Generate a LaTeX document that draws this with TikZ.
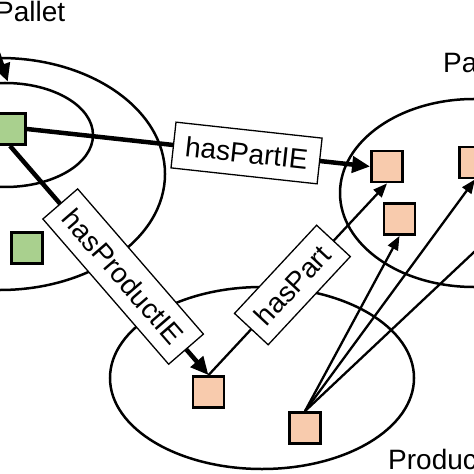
\documentclass[tikz,border=0pt]{standalone}
\usepackage{fontspec}
\setmainfont{Liberation Sans}
\usepackage{tikz}
\usetikzlibrary{arrows.meta, shapes.geometric}
\definecolor{palletgreen}{RGB}{169,208,142}
\definecolor{partorange}{RGB}{248,203,173}

\begin{document}
\begin{tikzpicture}[x=1bp,y=-1bp,
    every node/.style={font=\fontsize{28bp}{32bp}\selectfont},
    set node/.style={ellipse,draw,line width=2.5bp,inner sep=0bp},
    pallet node/.style={rectangle,draw,line width=2.8bp,fill=palletgreen,minimum size=31bp,inner sep=0bp},
    part node/.style={pallet node,fill=partorange},
    rel node/.style={rectangle,draw,fill=white,line width=1.3bp,minimum height=46bp,inner xsep=12bp,sloped},
    thick link/.style={line width=4.5bp,-{Triangle[length=18bp,width=16bp]}},
    thin link/.style={line width=2.3bp,-{Triangle[length=14bp,width=11bp]}}]
    \useasboundingbox (0,0) rectangle (474,474);
    \clip (0,0) rectangle (474,474);

    % sets
    \node[set node,minimum width=330bp,minimum height=232bp] (palletOut) at (0,174) {};
    \node[set node,minimum width=176bp,minimum height=104bp] (palletIn) at (5,135) {};
    \node[set node,minimum width=268bp,minimum height=188bp] (partSet) at (474,193) {};
    \node[set node,minimum width=304bp,minimum height=182bp] (productSet) at (262,378) {};

    \node[anchor=base west,inner sep=0bp] (palletLabel) at (-5,22) {Pallet};
    \node[anchor=base west,inner sep=0bp] (partLabel) at (443,73) {Part};
    \node[anchor=base west,inner sep=0bp] (productLabel) at (388,469) {Product};

    % individuals
    \node[pallet node] (pallet1) at (10,129) {};
    \node[pallet node] (pallet2) at (27,248) {};
    \node[part node] (product1) at (208.5,392) {};
    \node[part node] (product2) at (305,428) {};
    \node[part node] (part1) at (387,166.5) {};
    \node[part node] (part2) at (475,162.5) {};
    \node[part node] (part3) at (399.5,219) {};

    \coordinate (palletFrom) at (-8,36);
    \coordinate (partOut) at (540,190);

    % links
    \draw[thick link] (palletFrom) -- (palletIn.87);
    \draw[thick link] (pallet1.east) -- node[rel node,pos=0.64] (partIE) {hasPartIE} (part1.west);
    \draw[thick link] (pallet1.south) -- node[rel node,pos=0.57] (productIE) {hasProductIE} (product1.north);
    \draw[thin link] (product1.north) -- node[rel node,pos=0.47] (hasPart) {hasPart} (part1.south);
    \draw[thin link] (product2.north) -- (part3.south);
    \draw[thin link] (product2.north) -- (part2.south);
    \draw[thin link] (product2.north) -- (partOut);
\end{tikzpicture}
\end{document}
